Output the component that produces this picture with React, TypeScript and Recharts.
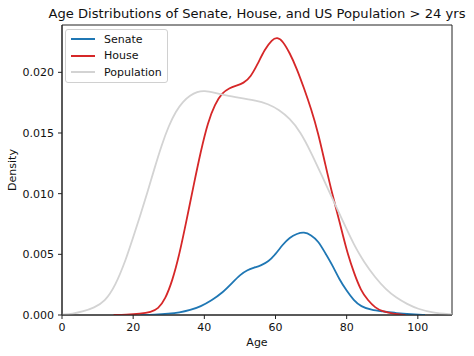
import { LineChart, Line, XAxis, YAxis, ReferenceArea } from "recharts";

// KDE curves (age, density)
const senateAge = [22, 26, 30, 33, 36, 39, 42, 45, 48, 50, 52, 54, 56, 58, 60, 62, 64, 66, 68, 70, 72, 74, 76, 78, 80, 82, 84, 87, 90, 94, 98, 102];
const senateDensity = [0, 0.00003, 0.0001, 0.0002, 0.0004, 0.0007, 0.0012, 0.0018, 0.0027, 0.0033, 0.0037, 0.0039, 0.0041, 0.0044, 0.005, 0.0058, 0.0064, 0.0067, 0.00685, 0.0066, 0.0061, 0.0051, 0.0041, 0.0029, 0.002, 0.0012, 0.0007, 0.0004, 0.0003, 0.00015, 0.00006, 0];

const houseAge = [14.5, 18, 22, 25, 27, 29, 31, 33, 35, 37, 39, 41, 43, 45, 47, 49, 51, 53, 55, 57, 59, 60.5, 62, 64, 66, 68, 70, 72, 74, 76, 78, 80, 82, 84, 86, 88, 90, 93, 96.5];
const houseDensity = [0, 0.00002, 0.0001, 0.00025, 0.0005, 0.0013, 0.0028, 0.005, 0.0078, 0.0107, 0.0135, 0.0159, 0.0174, 0.0183, 0.0187, 0.0189, 0.0191, 0.0196, 0.0207, 0.0219, 0.0227, 0.0229, 0.0226, 0.0216, 0.0203, 0.0187, 0.017, 0.015, 0.0124, 0.0099, 0.0077, 0.0053, 0.0035, 0.002, 0.0012, 0.0006, 0.0003, 0.0001, 0];

const popAge = [0, 3, 6, 9, 12, 15, 18, 20, 22, 24, 26, 28, 30, 32, 34, 36, 38, 40, 43, 46, 50, 54, 58, 61, 64, 67, 70, 73, 76, 79, 82, 85, 88, 91, 94, 97, 100, 104, 109.6];
const popDensity = [0.00003, 0.0001, 0.0003, 0.0006, 0.0011, 0.0024, 0.0046, 0.0064, 0.0082, 0.0101, 0.0121, 0.014, 0.0156, 0.0168, 0.0176, 0.0181, 0.0184, 0.0185, 0.0183, 0.0181, 0.0179, 0.0177, 0.0174, 0.0169, 0.0162, 0.0151, 0.0134, 0.0115, 0.0096, 0.0077, 0.0058, 0.0043, 0.0031, 0.0021, 0.0014, 0.0009, 0.0005, 0.0002, 0.00005];

const xTicks = [0, 20, 40, 60, 80, 100];
const yTicks = [0, 0.005, 0.01, 0.015, 0.02];
const xMax = 109.6;
const yMax = 0.0239;

const toPoints = (xs: number[], ys: number[]) => xs.map((age, i) => ({ age, density: ys[i] }));

const series = [
  { name: "Senate", color: "#1f77b4", data: toPoints(senateAge, senateDensity) },
  { name: "House", color: "#d62728", data: toPoints(houseAge, houseDensity) },
  { name: "Population", color: "#d3d3d3", data: toPoints(popAge, popDensity) },
];

const font = "'DejaVu Sans', sans-serif";
const tickStyle = { fontSize: 11, fill: "#111", fontFamily: font };

export default function App() {
  return (
    <div style={{ position: "absolute", left: 0, top: 0, width: 474, height: 356, background: "#fff", fontFamily: font }}>
      <div style={{ position: "absolute", left: 0, top: 6, width: 514, textAlign: "center", fontSize: 13.1, lineHeight: "16px", color: "#111" }}>
        Age Distributions of Senate, House, and US Population &gt; 24 yrs
      </div>
      <LineChart width={474} height={356} margin={{ top: 25, right: 22, bottom: 0, left: 0 }}>
        <XAxis
          type="number"
          dataKey="age"
          domain={[0, xMax]}
          ticks={xTicks}
          allowDataOverflow
          height={41}
          tickSize={4}
          tickMargin={4}
          tick={tickStyle}
          stroke="#222"
          label={{ value: "Age", position: "insideBottom", offset: 10, fontSize: 11, fill: "#111", fontFamily: font }}
        />
        <YAxis
          type="number"
          dataKey="density"
          domain={[0, yMax]}
          ticks={yTicks}
          allowDataOverflow
          width={62}
          tickSize={4}
          tickMargin={4}
          tick={tickStyle}
          tickFormatter={(v: number) => v.toFixed(3)}
          stroke="#222"
          label={{ value: "Density", angle: -90, position: "insideLeft", offset: 12, fontSize: 11, fill: "#111", fontFamily: font, style: { textAnchor: "middle" } }}
        />
        {series.map((s) => (
          <Line
            key={s.name}
            data={s.data}
            dataKey="density"
            name={s.name}
            type="basis"
            stroke={s.color}
            strokeWidth={1.8}
            dot={false}
            isAnimationActive={false}
          />
        ))}
        <ReferenceArea x1={0} x2={xMax} y1={0} y2={yMax} fill="none" stroke="#222" strokeWidth={1} />
      </LineChart>
      <div
        style={{
          position: "absolute",
          left: 65,
          top: 29,
          width: 101,
          height: 52,
          border: "1px solid #d0d0d0",
          borderRadius: 3,
          background: "rgba(255,255,255,0.8)",
          fontSize: 11,
          color: "#111",
        }}
      >
        {series.map((s, i) => (
          <div key={s.name} style={{ position: "absolute", left: 0, top: 1 + i * 16.5, height: 16, display: "flex", alignItems: "center" }}>
            <span style={{ display: "inline-block", marginLeft: 5, width: 24, height: 2, background: s.color }} />
            <span style={{ marginLeft: 9 }}>{s.name}</span>
          </div>
        ))}
      </div>
    </div>
  );
}
